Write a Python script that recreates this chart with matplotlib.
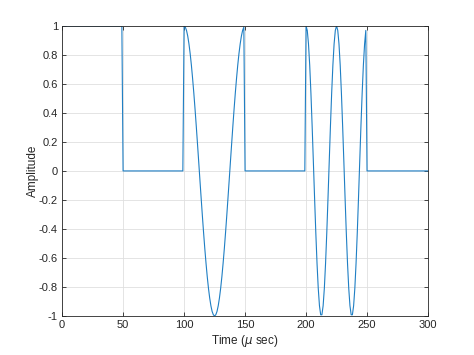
import numpy as np
import matplotlib
matplotlib.use("Agg")
import matplotlib.pyplot as plt

plt.rcParams['font.family'] = ['Liberation Sans', 'DejaVu Sans']
plt.rcParams['axes.unicode_minus'] = False

# pulse train, sampled every 1 us
dt = 1.0
# flat parts: (start, end, level)
flat_segments = [(0, 49, 1.0), (50, 99, 0.0), (150, 199, 0.0), (250, 300, 0.0)]
# first sinusoidal pulse, starting at t = 100
pulse1_start = 100
pulse1 = [1.000, 0.992, 0.969, 0.930, 0.876, 0.809, 0.729, 0.637, 0.536, 0.426,
          0.309, 0.187, 0.063, -0.063, -0.187, -0.309, -0.426, -0.536, -0.637, -0.729,
          -0.809, -0.876, -0.930, -0.969, -0.992, -1.000, -0.992, -0.969, -0.930, -0.876,
          -0.809, -0.729, -0.637, -0.536, -0.426, -0.309, -0.187, -0.063, 0.063, 0.187,
          0.309, 0.426, 0.536, 0.637, 0.729, 0.809, 0.876, 0.930, 0.969, 0.992]
# second sinusoidal pulse, starting at t = 200
pulse2_start = 200
pulse2 = [1.000, 0.969, 0.876, 0.729, 0.536, 0.309, 0.063, -0.187, -0.426, -0.637,
          -0.809, -0.930, -0.992, -0.992, -0.930, -0.809, -0.637, -0.426, -0.187, 0.063,
          0.309, 0.536, 0.729, 0.876, 0.969,
          1.000, 0.969, 0.876, 0.729, 0.536, 0.309, 0.063, -0.187, -0.426, -0.637,
          -0.809, -0.930, -0.992, -0.992, -0.930, -0.809, -0.637, -0.426, -0.187, 0.063,
          0.309, 0.536, 0.729, 0.876, 0.969]

# assemble the signal in time order
pieces = []
for s, e, lev in flat_segments:
    pieces.append((s, [s, e], [lev, lev]))
pieces.append((pulse1_start, list(pulse1_start + dt * np.arange(len(pulse1))), pulse1))
pieces.append((pulse2_start, list(pulse2_start + dt * np.arange(len(pulse2))), pulse2))
pieces.sort(key=lambda p: p[0])
t = []
y = []
for _, tt, yy in pieces:
    t += list(tt)
    y += list(yy)

fig = plt.figure(figsize=(4.74, 3.55), dpi=100)
ax = fig.add_axes([0.131, 0.110, 0.772, 0.817])
ax.plot(t, y, color='#1f7fc4', lw=0.8)

ax.set_xlim(0, 300)
ax.set_ylim(-1, 1)
ax.set_xticks(np.arange(0, 301, 50))
ax.set_yticks(np.linspace(-1, 1, 11))
ax.set_yticklabels(['-1', '-0.8', '-0.6', '-0.4', '-0.2', '0', '0.2', '0.4', '0.6', '0.8', '1'])
ax.grid(True, color='#dfdfdf', lw=0.6)
ax.set_axisbelow(True)
ax.tick_params(direction='in', length=3, width=0.6, colors='#262626',
               labelsize=8, top=True, right=True, pad=3)
for sp in ax.spines.values():
    sp.set_color('#262626')
    sp.set_linewidth(0.6)
ax.set_xlabel(r'Time ($\mu$ sec)', fontsize=8.5, color='#262626', labelpad=2)
ax.set_ylabel('Amplitude', fontsize=8.5, color='#262626', labelpad=0)

fig.savefig('out.png', dpi=100)
